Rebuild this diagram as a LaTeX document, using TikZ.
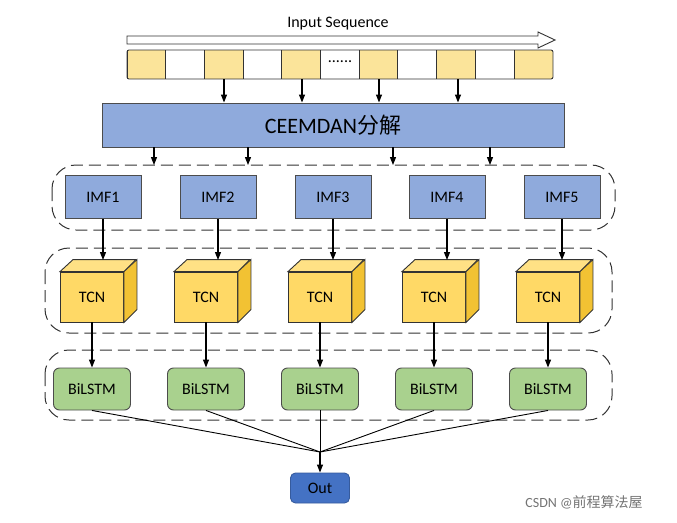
\documentclass[tikz,border=0pt]{standalone}
\usepackage{fontspec}
\setmainfont{Carlito}
\newfontfamily\cjk{Noto Sans CJK SC}
\usetikzlibrary{arrows.meta}
\definecolor{bl}{HTML}{8FAADC}
\definecolor{yl}{HTML}{FFD966}
\definecolor{yd}{HTML}{F2C233}
\definecolor{cy}{HTML}{FBE49A}
\definecolor{gr}{HTML}{A9D18E}
\definecolor{ob}{HTML}{4472C4}
\begin{document}
\begin{tikzpicture}[x=1pt,y=-1pt,line width=0.9pt,
  lbl/.style={font=\fontsize{16}{18}\selectfont},
  arr/.style={-{Triangle[length=8pt,width=6pt]},line width=1.2pt},
  grp/.style={dash pattern=on 12pt off 6pt,rounded corners=24pt,draw=black!80,line width=1pt},
  imf/.style={draw=black!70,fill=bl,minimum width=76pt,minimum height=43pt,lbl},
  lstm/.style={draw=black!70,fill=gr,rounded corners=6pt,minimum width=77pt,minimum height=42pt,lbl},
  tcn/.style={draw=black!80,fill=yl,minimum width=63pt,minimum height=50pt,lbl}]
\useasboundingbox (0,0) rectangle (677,522);
% input arrow
\draw[black!80] (127,36) -- (538,36) -- (538,32) -- (555,40) -- (538,48) -- (538,44) -- (127,44) -- cycle;
\node[lbl] (title) at (338,24) {Input Sequence};
% sequence strip
\foreach \i/\c in {0/cy,1/white,2/cy,3/white,4/cy,5/white,6/cy,7/white,8/cy,9/white,10/cy}{
  \fill[\c] ({127+\i*38.7},50) rectangle ({127+(\i+1)*38.7},79);
  \draw[black!80] ({127+\i*38.7},50) -- ({127+\i*38.7},79);
}
\draw[black!80,rounded corners=2pt] (127,50) rectangle (553,79);
\node[lbl] (dots) at (340,62) {......};
\foreach \x [count=\k] in {224,302,379,458}{\coordinate (s\k) at (\x,79);}
\node[draw=black!70,fill=bl,minimum width=462pt,minimum height=44pt,font=\fontsize{22}{24}\selectfont] (ce) at (333,125) {CEEMDAN\cjk{分解}};
\foreach \k in {1,...,4}{\draw[arr] (s\k) -- (s\k |- ce.north);}
% groups
\draw[grp] (52,165) rectangle (615,230);
\draw[grp] (45,248) rectangle (612,333);
\draw[grp] (45,350) rectangle (612,420);
\foreach \x in {154,248,393,490}{\draw[arr] (\x,147) -- (\x,165);}
\node[draw=ob!80!black,fill=ob,rounded corners=5pt,minimum width=59pt,minimum height=30pt,lbl] (out) at (320,488) {Out};
\coordinate (j) at (320,452);
\foreach \x [count=\k] in {103,218,333,447,562}{
  \node[imf] (imf\k) at (\x,197) {IMF\k};
}
\foreach \x [count=\k] in {92,206,320,434,548}{
  \node[tcn] (t\k) at (\x,297) {TCN};
  \fill[yd,draw=black!80] (t\k.north east) -- ++(13,-12) -- ++(0,50) -- (t\k.south east) -- cycle;
  \fill[yl!80!white,draw=black!80] (t\k.north west) -- ++(13,-12) -- ++(63,0) -- (t\k.north east) -- cycle;
  \node[lstm] (b\k) at (\x,389) {BiLSTM};
  \draw[arr] (imf\k.south) -- (imf\k.south |- 0,260);
  \draw[arr] (t\k.south) -- (b\k.north);
  \draw (b\k.south) -- (j);
}
\draw[arr] (j) -- (out.north);
\node[text=black!55,font=\fontsize{14}{16}\selectfont] (wm) at (584,502) {CSDN @\cjk{前程算法屋}};
\end{tikzpicture}
\end{document}
